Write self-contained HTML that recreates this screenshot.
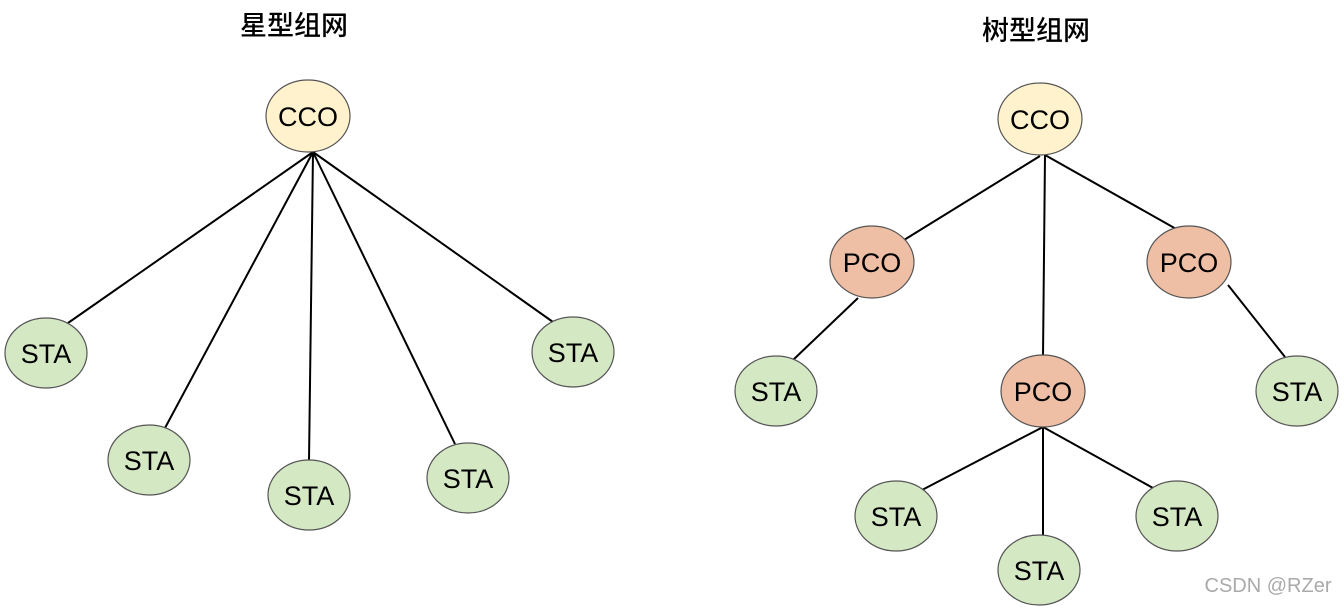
<!DOCTYPE html>
<html><head><meta charset="utf-8"><style>
html,body{margin:0;padding:0;background:#fff;width:1344px;height:609px;overflow:hidden}
svg text{font-family:"Liberation Sans","Noto Sans CJK SC",sans-serif}
</style></head><body>
<svg width="1344" height="609" viewBox="0 0 1344 609" xmlns="http://www.w3.org/2000/svg">
<g stroke="#000" stroke-width="2" fill="none">
<line x1="313" y1="152" x2="68" y2="323"/>
<line x1="313" y1="152" x2="165" y2="428"/>
<line x1="313" y1="152" x2="309" y2="461"/>
<line x1="313" y1="152" x2="455" y2="444"/>
<line x1="313" y1="152" x2="553" y2="322"/>
<line x1="1040" y1="156" x2="904" y2="240"/>
<line x1="1045" y1="155" x2="1043" y2="356"/>
<line x1="1045" y1="155" x2="1178" y2="230"/>
<line x1="858" y1="298" x2="793" y2="360"/>
<line x1="1228" y1="285" x2="1285" y2="357"/>
<line x1="1043" y1="427" x2="922" y2="490"/>
<line x1="1043" y1="427" x2="1043" y2="535"/>
<line x1="1043" y1="427" x2="1153" y2="488"/>
</g>
<g stroke="#555" stroke-width="1.2">
<ellipse cx="308" cy="116" rx="42" ry="36" fill="#fff2cc"/>
<ellipse cx="46" cy="353" rx="41" ry="35" fill="#d5e8c4"/>
<ellipse cx="149" cy="460" rx="41" ry="35" fill="#d5e8c4"/>
<ellipse cx="309" cy="495" rx="41" ry="35" fill="#d5e8c4"/>
<ellipse cx="468" cy="478" rx="41" ry="35" fill="#d5e8c4"/>
<ellipse cx="573" cy="352" rx="41" ry="35" fill="#d5e8c4"/>
<ellipse cx="1040" cy="119" rx="42" ry="36" fill="#fff2cc"/>
<ellipse cx="872" cy="262" rx="42" ry="36" fill="#efbfa5"/>
<ellipse cx="1189" cy="262" rx="42" ry="36" fill="#efbfa5"/>
<ellipse cx="1043" cy="391" rx="42" ry="36" fill="#efbfa5"/>
<ellipse cx="776" cy="391" rx="41" ry="35" fill="#d5e8c4"/>
<ellipse cx="1297" cy="391" rx="41" ry="35" fill="#d5e8c4"/>
<ellipse cx="896" cy="516" rx="41" ry="35" fill="#d5e8c4"/>
<ellipse cx="1177" cy="516" rx="41" ry="35" fill="#d5e8c4"/>
<ellipse cx="1039" cy="570" rx="41" ry="35" fill="#d5e8c4"/>
</g>
<g font-size="27" text-anchor="middle" fill="#000">
<text x="308" y="126">CCO</text>
<text x="46" y="363">STA</text>
<text x="149" y="470">STA</text>
<text x="309" y="505">STA</text>
<text x="468" y="488">STA</text>
<text x="573" y="362">STA</text>
<text x="1040" y="129">CCO</text>
<text x="872" y="272">PCO</text>
<text x="1189" y="272">PCO</text>
<text x="1043" y="401">PCO</text>
<text x="776" y="401">STA</text>
<text x="1297" y="401">STA</text>
<text x="896" y="526">STA</text>
<text x="1177" y="526">STA</text>
<text x="1039" y="580">STA</text>
<text x="294" y="35" font-size="27" font-weight="500">星型组网</text>
<text x="1036" y="40" font-size="27" font-weight="500">树型组网</text>
</g>
<text x="1268" y="592" font-size="20" fill="#aaa" text-anchor="middle">CSDN @RZer</text>
</svg>
</body></html>
